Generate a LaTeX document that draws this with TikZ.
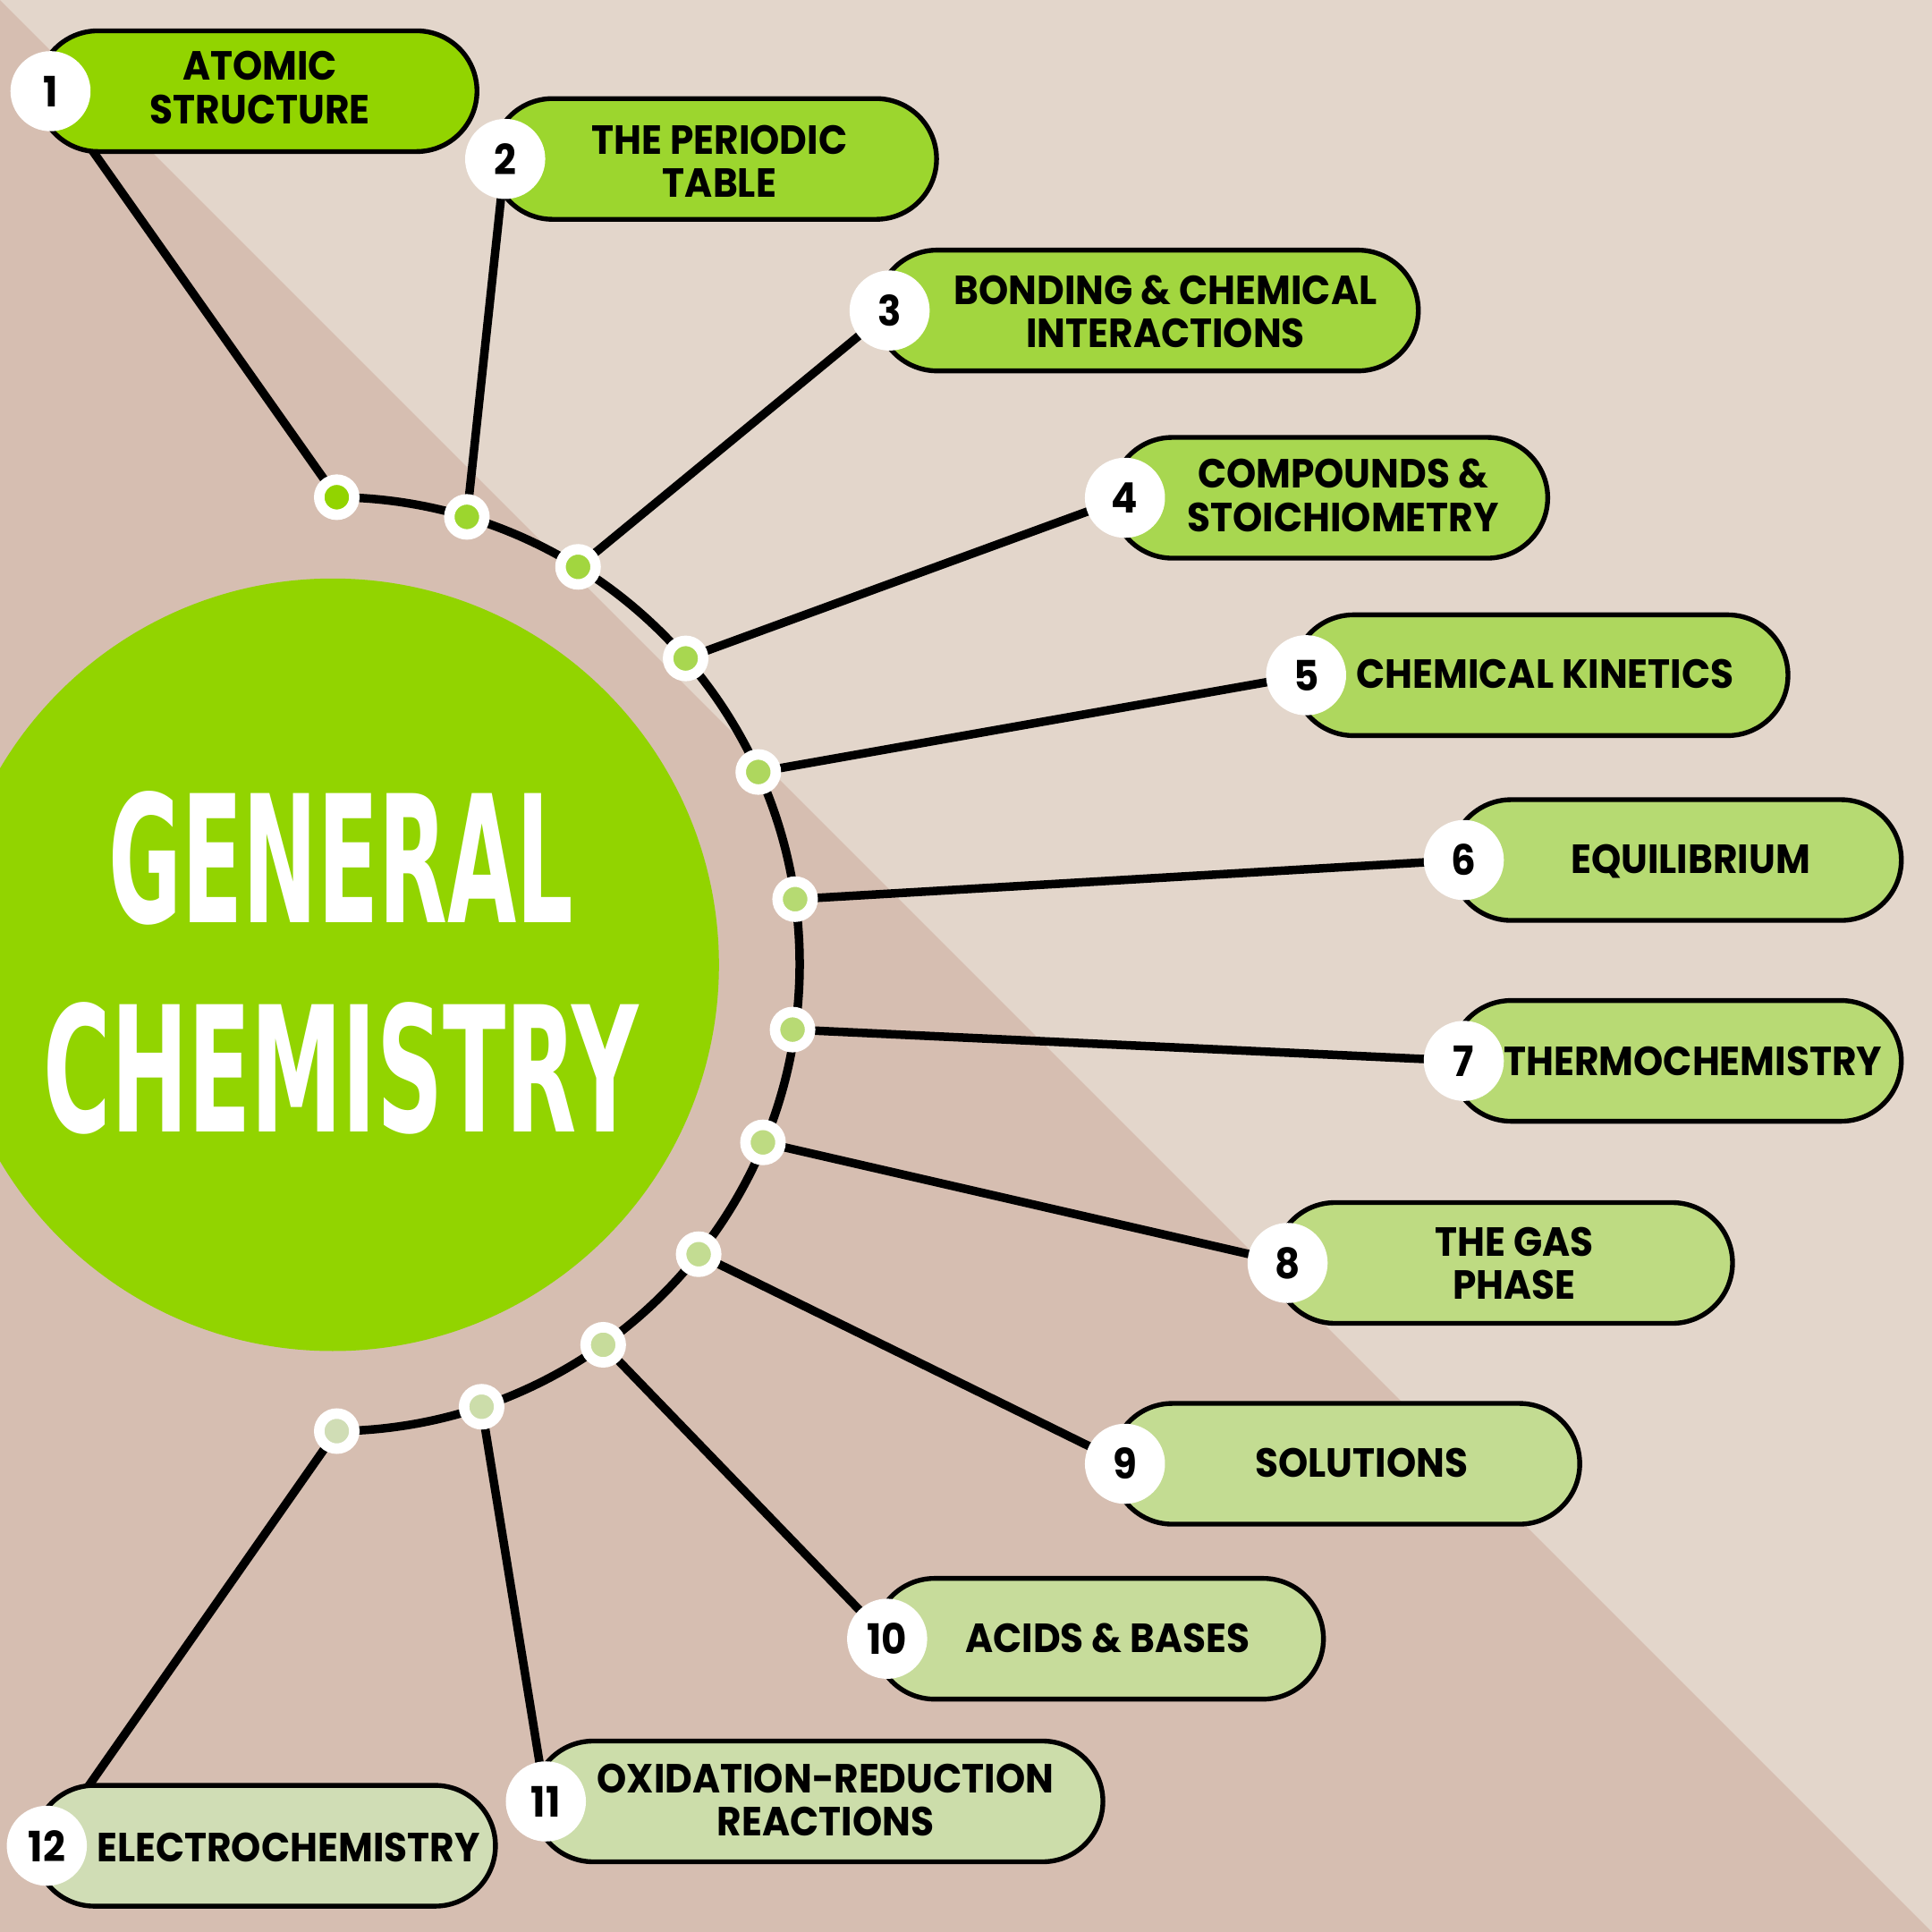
\documentclass[tikz,border=0pt]{standalone}
\usepackage{fontspec}
\usepackage{graphicx}
\usetikzlibrary{calc,shapes.misc}
\newfontfamily\labelfont{Poppins}[FakeStretch=0.93]
\newfontfamily\titlefont{DejaVu Sans}
\definecolor{bglight}{HTML}{E3D6CB}
\definecolor{bgdark}{HTML}{D6BEB1}
\definecolor{bigg}{HTML}{92D400}
\definecolor{c1}{HTML}{92D400}
\definecolor{c2}{HTML}{9CD62E}
\definecolor{c3}{HTML}{A2D63F}
\definecolor{c4}{HTML}{A8D750}
\definecolor{c5}{HTML}{AED75E}
\definecolor{c6}{HTML}{B6DA72}
\definecolor{c7}{HTML}{B8DA74}
\definecolor{c8}{HTML}{BEDB82}
\definecolor{c9}{HTML}{C3DC92}
\definecolor{c10}{HTML}{C7DC9B}
\definecolor{c11}{HTML}{CCDDAA}
\definecolor{c12}{HTML}{D0DDB5}
\pgfdeclarelayer{bg}
\pgfdeclarelayer{mid}
\pgfsetlayers{bg,mid,main}
\begin{document}
\begin{tikzpicture}[x=1pt,y=-1pt,
  pillbox/.style={rounded rectangle, draw=black, line width=3.9pt, minimum height=98pt, inner sep=0pt},
  numc/.style={circle, fill=white, minimum size=65pt, inner sep=0pt, font=\labelfont\bfseries\fontsize{34}{34}\selectfont},
  dotc/.style={circle, draw=white, line width=8.5pt, minimum size=28.5pt, inner sep=0pt},
  conn/.style={line width=6.9pt, draw=black},
  lbl/.style={align=center, inner sep=0pt, text depth=0pt, font=\labelfont\bfseries\fontsize{33}{35}\selectfont},
  ttl/.style={inner sep=0pt, anchor=south west, text=white, font=\titlefont\bfseries\fontsize{140}{140}\selectfont}
]
\useasboundingbox (0,0) rectangle (1568,1568);
\clip (0,0) rectangle (1568,1568);
\coordinate (C) at (270,782.5);
\begin{pgfonlayer}{bg}
\fill[bgdark] (0,0) rectangle (1568,1568);
\fill[bglight] (0,0) -- (1568,0) -- (1568,1568) -- cycle;
\node[circle, fill=bigg, minimum size=627pt, inner sep=0pt] (core) at (270,783) {};
\draw[conn] ($(C)+(-89.5:379)$) arc[start angle=-89.5, end angle=89.5, radius=379];
\end{pgfonlayer}
% title
\node[ttl] (title1) at (88,751.3) {\resizebox{377pt}{106.7pt}{GENERAL}};
\node[ttl] (title2) at (35,920.6) {\resizebox{483pt}{105.2pt}{CHEMISTRY}};
% dots on the arc
\node[dotc, fill=c1] (d1) at ($(C)+(-89.5:379)$) {};
\node[dotc, fill=c2] (d2) at ($(C)+(-73.3:379)$) {};
\node[dotc, fill=c3] (d3) at ($(C)+(-58.3:379)$) {};
\node[dotc, fill=c4] (d4) at ($(C)+(-40.9:379)$) {};
\node[dotc, fill=c5] (d5) at ($(C)+(-24.3:379)$) {};
\node[dotc, fill=c6] (d6) at ($(C)+(-8.0:379)$) {};
\node[dotc, fill=c7] (d7) at ($(C)+(8.1:377)$) {};
\node[dotc, fill=c8] (d8) at ($(C)+(22.5:378)$) {};
\node[dotc, fill=c9] (d9) at ($(C)+(38.4:379)$) {};
\node[dotc, fill=c10] (d10) at ($(C)+(54.6:379)$) {};
\node[dotc, fill=c11] (d11) at ($(C)+(71.4:379)$) {};
\node[dotc, fill=c12] (d12) at ($(C)+(89.5:379)$) {};
% pills
\node[pillbox, fill=c1, minimum width=356.6pt] (p1) at (208.8,74) {};
\node[pillbox, fill=c2, minimum width=360.6pt] (p2) at (579.8,129) {};
\node[pillbox, fill=c3, minimum width=439.6pt] (p3) at (931.3,252) {};
\node[pillbox, fill=c4, minimum width=353.6pt] (p4) at (1079.3,404) {};
\node[pillbox, fill=c5, minimum width=401.6pt] (p5) at (1250.3,548) {};
\node[pillbox, fill=c6, minimum width=365.6pt] (p6) at (1360.3,698) {};
\node[pillbox, fill=c7, minimum width=365.6pt] (p7) at (1360.3,861) {};
\node[pillbox, fill=c8, minimum width=371.6pt] (p8) at (1220.3,1025) {};
\node[pillbox, fill=c9, minimum width=379.6pt] (p9) at (1092.3,1188) {};
\node[pillbox, fill=c10, minimum width=364.6pt] (p10) at (891.8,1330) {};
\node[pillbox, fill=c11, minimum width=462.6pt] (p11) at (663.8,1462) {};
\node[pillbox, fill=c12, minimum width=374.6pt] (p12) at (214.8,1498) {};
% number circles
\node[numc] (n1) at (41,74) {1};
\node[numc] (n2) at (410,129) {2};
\node[numc] (n3) at (722,252) {3};
\node[numc] (n4) at (913,404) {4};
\node[numc] (n5) at (1060,548) {5};
\node[numc] (n6) at (1188,698) {6};
\node[numc] (n7) at (1188,861) {7};
\node[numc] (n8) at (1045,1025) {8};
\node[numc] (n9) at (913,1188) {9};
\node[numc] (n10) at (720,1330) {10};
\node[numc] (n11) at (443,1462) {11};
\node[numc] (n12) at (38,1498) {12};
% labels
\node[lbl] (t1) at (211,71) {ATOMIC\\STRUCTURE};
\node[lbl] (t2) at (584,131) {THE PERIODIC\\TABLE};
\node[lbl] (t3) at (946,253) {BONDING \& CHEMICAL\\INTERACTIONS};
\node[lbl] (t4) at (1090,402) {COMPOUNDS \&\\STOICHIOMETRY};
\node[lbl] (t5) at (1254,547) {CHEMICAL KINETICS};
\node[lbl] (t6) at (1372,697) {EQUILIBRIUM};
\node[lbl] (t7) at (1374,861) {THERMOCHEMISTRY};
\node[lbl] (t8) at (1229,1025) {THE GAS\\PHASE};
\node[lbl] (t9) at (1105,1187) {SOLUTIONS};
\node[lbl] (t10) at (899,1329) {ACIDS \& BASES};
\node[lbl] (t11) at (670,1461) {OXIDATION-REDUCTION\\REACTIONS};
\node[lbl] (t12) at (234,1499) {ELECTROCHEMISTRY};
% connectors
\begin{pgfonlayer}{mid}
\foreach \k in {1,...,12}{\draw[conn] (d\k.center) -- (n\k.center);}
\end{pgfonlayer}
\end{tikzpicture}
\end{document}
